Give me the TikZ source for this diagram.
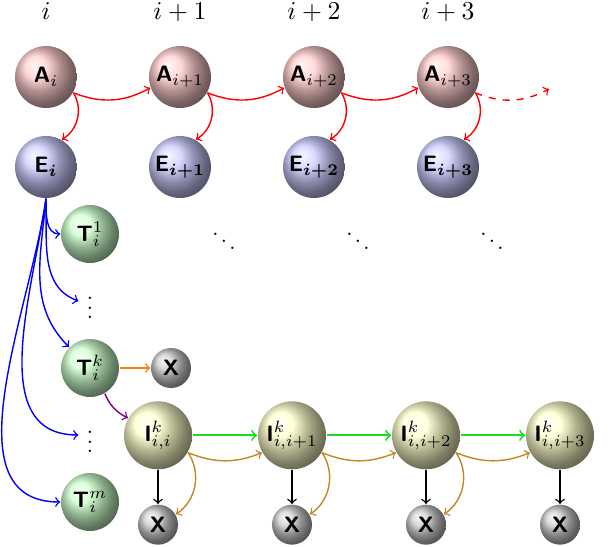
\documentclass[tikz,border=0pt]{standalone}
\usepackage{amsmath}
\usepackage{tikz}
\usetikzlibrary{arrows,positioning}
\definecolor{ochre}{RGB}{195,135,35}
\definecolor{lgreen}{RGB}{30,220,30}
\newcommand{\sbf}[1]{\textsf{\textbf{#1}}}

\begin{document}
\begin{tikzpicture}[on grid, node distance=2.01cm, semithick,
    font=\fontsize{9.5}{11}\selectfont,
    sphere/.style={circle,inner sep=0pt,minimum size=#1},
    anode/.style={sphere=0.93cm,ball color=red!20},
    enode/.style={sphere=0.93cm,ball color=blue!20},
    tnode/.style={sphere=0.87cm,ball color=green!20},
    inode/.style={sphere=1.02cm,ball color=yellow!20},
    xnode/.style={sphere=0.6cm,ball color=gray!40},
    lbl/.style={font=\fontsize{10.5}{13}\selectfont}]
     \useasboundingbox (-0.69,-7.05) rectangle (8.445,1.155);

     % time steps
     \node [anode] (A0) {\sbf{A}$_i$}; \node [anode, right= of A0] (A1)
     {\sbf{A}$_{i+1}$}; \node [anode, right= of A1] (A2)
     {\sbf{A}$_{i+2}$}; \node [anode, right= of A2] (A3) {\sbf{A}$_{i+3}$};
     \node [lbl, above= 0.865cm of A0, anchor=base] (l0) {$i$}; \node [lbl,
     above= 0.865cm of A1, anchor=base] (l1) {$i+1$}; \node [lbl, above=
     0.865cm of A2, anchor=base] (l2) {$i+2$}; \node [lbl, above= 0.865cm
     of A3, anchor=base] (l3) {$i+3$};
     \coordinate [below right= 0.18cm and 1.515cm of A3] (Aend);

     \node [enode, below= 1.35cm of A0] (E0) {\sbf{E}$_{\boldsymbol{i}}$};
     \node [enode, below= 1.35cm of A1] (E1) {\sbf{E}$_{\boldsymbol{i+1}}$};
     \node [enode, below= 1.35cm of A2] (E2) {\sbf{E}$_{\boldsymbol{i+2}}$};
     \node [enode, below= 1.35cm of A3] (E3) {\sbf{E}$_{\boldsymbol{i+3}}$};

     % tasks of step i
     \node [tnode, below right= 1.005cm and 0.66cm of E0] (T1)
     {\sbf{T}$^1_i$}; \node [below= 1.005cm of T1] (vd1) {$\vdots$};
     \node [tnode, below= 1.005cm of vd1] (Tk) {\sbf{T}$^k_i$}; \node
     [below= 1.005cm of Tk] (vd2) {$\vdots$}; \node [tnode, below=
     1.005cm of vd2] (Tm) {\sbf{T}$^m_i$};
     \node [right= of T1] (dd1) {$\ddots$}; \node [right= of dd1] (dd2)
     {$\ddots$}; \node [right= of dd2] (dd3) {$\ddots$};
     \node [xnode, right= 1.215cm of Tk] (Xk) {\sbf{X}};

     \node [inode, below right= 1.01cm and 1.02cm of Tk] (I0)
     {\sbf{I}$^k_{i,i}$}; \node [inode, right= of I0] (I1)
     {\sbf{I}$^k_{i,i+1}$}; \node [inode, right= of I1] (I2)
     {\sbf{I}$^k_{i,i+2}$}; \node [inode, right= of I2] (I3)
     {\sbf{I}$^k_{i,i+3}$};
     \node [xnode, below= 1.34cm of I0] (X0) {\sbf{X}}; \node [xnode,
     below= 1.34cm of I1] (X1) {\sbf{X}}; \node [xnode, below= 1.34cm of
     I2] (X2) {\sbf{X}}; \node [xnode, below= 1.34cm of I3] (X3) {\sbf{X}};

     \path [->, red] (A0.-30) edge [bend right=25] (A1.200) edge [bend
     left=45] (E0.60) (A1.-30) edge [bend right=25] (A2.200) edge [bend
     left=45] (E1.60) (A2.-30) edge [bend right=25] (A3.200) edge [bend
     left=45] (E2.60) (A3.-30) edge [bend left=45] (E3.60) edge [dashed,
     bend right=25] (Aend);

     \path [->, blue] (E0.south) edge [out=-90, in=180] (T1.west) edge
     [out=-88, in=160] (vd1.west) edge [out=-95, in=135] (Tk.135) edge
     [out=-98, in=180] (vd2.west) edge [out=-98, in=180, looseness=0.95]
     (Tm.west);
     \path [->, orange] (Tk) edge (Xk); \path [->, violet] (Tk.-60) edge
     [bend right=20] (I0.150);

     \path [->, lgreen, thick] (I0) edge (I1) (I1) edge (I2) (I2) edge (I3);
     \path [->, ochre] (I0.-30) edge [bend right=22] (I1.210) edge [bend
     left=45] (X0.30) (I1.-30) edge [bend right=22] (I2.210) edge [bend
     left=45] (X1.30) (I2.-30) edge [bend right=22] (I3.210) edge [bend
     left=45] (X2.30);
     \path [->] (I0) edge (X0) (I1) edge (X1) (I2) edge (X2) (I3) edge (X3);
   \end{tikzpicture}
\end{document}
